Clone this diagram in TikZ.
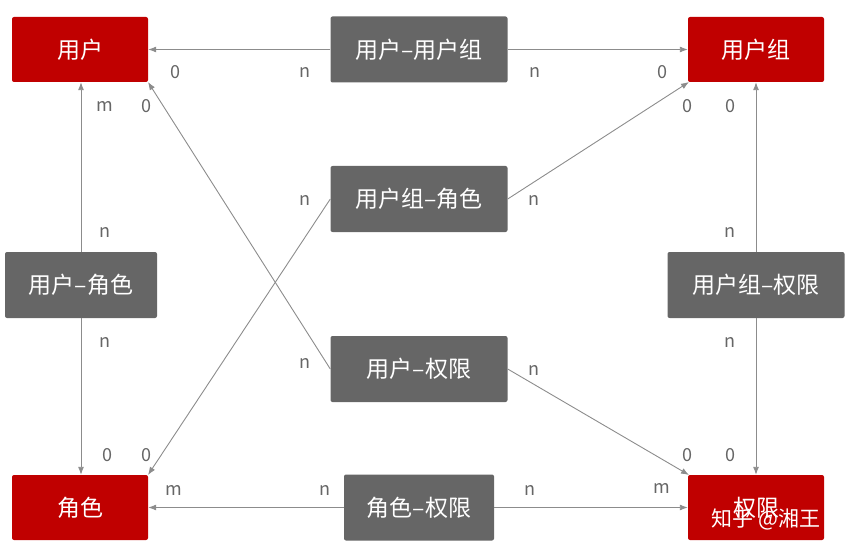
\documentclass[tikz,border=0pt]{standalone}
\usepackage{fontspec}
\setmainfont{Noto Sans CJK SC}
\usetikzlibrary{arrows.meta}
\definecolor{boxred}{HTML}{C00000}
\definecolor{boxgray}{HTML}{666666}
\definecolor{linegray}{HTML}{8C8C8C}
\tikzset{
  ent/.style={fill=boxred, text=white, rounded corners=2pt, minimum width=136pt, minimum height=65pt, font=\fontsize{23}{26}\selectfont},
  rel/.style={fill=boxgray, text=white, rounded corners=2pt, minimum width=177pt, minimum height=66pt, font=\fontsize{23}{26}\selectfont},
  link/.style={draw=linegray, line width=0.9pt, -{Latex[length=8pt,width=6pt]}},
  card/.style={text=boxgray, font=\fontsize{18}{20}\selectfont}
}
\begin{document}
\begin{tikzpicture}[x=1pt,y=-1pt]
        \useasboundingbox (0,0) rectangle (856,556);
        % Entities.
        \node[ent] (U) at (80,49.5) {用户};
        \node[ent] (G) at (756,49.5) {用户组};
        \node[ent] (R) at (80,507.5) {角色};
        \node[ent] (P) at (756,507.5) {权限};

        % Relations.
        \node[rel] (UG) at (419,49.5) {用户–用户组};
        \node[rel] (GR) at (419,199) {用户组–角色};
        \node[rel, minimum width=152pt] (UR) at (81,285) {用户–角色};
        \node[rel] (GP) at (756,285) {用户组–权限};
        \node[rel] (UP) at (419,369) {用户–权限};
        \node[rel, minimum width=150pt] (RP) at (419,507.5) {角色–权限};

        \coordinate (Gsw) at (689,82);
        \coordinate (Rne) at (148,475);
        \coordinate (Use) at (148,82);
        \coordinate (Pnw) at (689,475);

        % Links.
        \draw[link] (UG.west) -- (U.east);
        \draw[link] (UG.east) -- (G.west);
        \draw[link] (GR.east) -- (Gsw);
        \draw[link] (GR.west) -- (Rne);
        \draw[link] (UP.west) -- (Use);
        \draw[link] (UP.east) -- (Pnw);
        \draw[link] (UR.north) -- (U.south -| UR.north);
        \draw[link] (UR.south) -- (R.north -| UR.south);
        \draw[link] (GP.north) -- (G.south);
        \draw[link] (GP.south) -- (P.north);
        \draw[link] (RP.west) -- (R.east);
        \draw[link] (RP.east) -- (P.west);

        % Cardinalities.
        \foreach \x/\y/\t in {175/72/0, 305/72/n, 535/72/n, 662/72/0,
            534/200/n, 687/106/0, 305/200/n, 146/455/0,
            305/363/n, 146/106/0, 534/370/n, 687/455/0,
            105/232/n, 105/106/m, 105/342/n, 107/455/0,
            730/232/n, 730/106/0, 730/342/n, 730/455/0,
            325/490/n, 174/490/m, 530/490/n, 662/488/m}
            \node[card] at (\x,\y) {\t};

        % Watermark.
        \node[text=white, font=\fontsize{21}{24}\selectfont] (wm) at (766,519) {知乎 @湘王};
\end{tikzpicture}
\end{document}
